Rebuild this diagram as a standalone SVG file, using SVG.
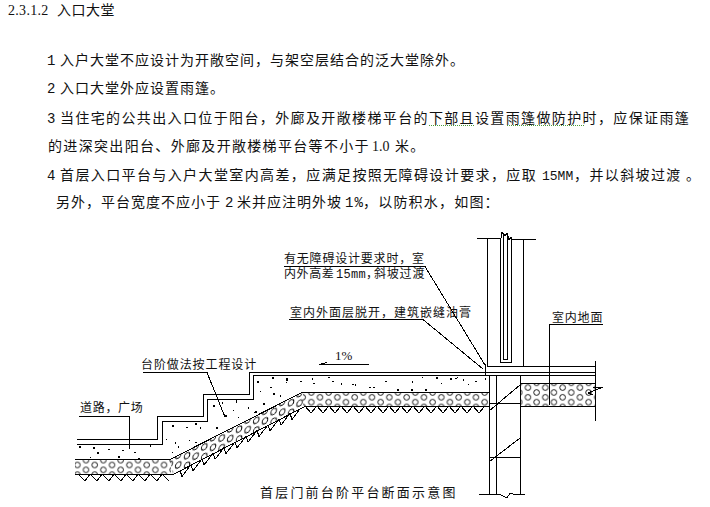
<svg xmlns="http://www.w3.org/2000/svg" width="710" height="507" viewBox="0 0 710 507">
<style>
text{font-family:"Noto Sans CJK SC","Liberation Sans",sans-serif;fill:#111}
.b{font-size:14px}
.l{font-size:12px}
.m{font-family:"Liberation Mono","Noto Sans CJK SC",monospace}
.s{font-family:"Liberation Serif","Noto Sans CJK SC",serif}
.k,.t{fill:none;stroke:#000;stroke-width:1;shape-rendering:crispEdges}
.c{fill:none;stroke:#000;stroke-width:0.9}
</style>
<defs>
<pattern id="g" width="17.33" height="9.67" patternUnits="userSpaceOnUse" x="303" y="392">
<circle class="c" cx="8.3" cy="0.5" r="2.8"/>
<circle class="c" cx="8.3" cy="10.17" r="2.8"/>
<circle class="c" cx="17" cy="5.3" r="2.8"/>
<circle class="c" cx="-0.33" cy="5.3" r="2.8"/>
</pattern>
<pattern id="gs" width="17.33" height="9.67" patternUnits="userSpaceOnUse" patternTransform="translate(170 459) skewY(-27)">
<circle class="c" cx="8.3" cy="0.5" r="2.8"/>
<circle class="c" cx="8.3" cy="10.17" r="2.8"/>
<circle class="c" cx="17" cy="5.3" r="2.8"/>
<circle class="c" cx="-0.33" cy="5.3" r="2.8"/>
</pattern>
</defs>
<rect width="710" height="507" fill="#fff"/>
<g id="body-text">
<text class="b" y="15"><tspan class="s" x="8" letter-spacing="0.3">2.3.1.2</tspan><tspan x="57" letter-spacing="0.5">入口大堂</tspan></text>
<text class="b" y="65" letter-spacing="1"><tspan class="m" x="47">1</tspan><tspan x="60">入户大堂不应设计为开敞空间，与架空层结合的泛大堂除外。</tspan></text>
<text class="b" y="93" letter-spacing="1"><tspan class="m" x="47">2</tspan><tspan x="60">入口大堂外应设置雨篷。</tspan></text>
<text class="b" y="123" letter-spacing="1.37"><tspan class="m" x="47">3</tspan><tspan x="60">当住宅的公共出入口位于阳台，外廊及开敞楼梯平台的下部且设置雨篷做防护时，应保证雨篷</tspan></text>
<text class="b" y="151" letter-spacing="1.33"><tspan x="48">的进深突出阳台、外廊及开敞楼梯平台等不小于</tspan><tspan class="s" x="372" letter-spacing="0">1.0</tspan><tspan x="395">米。</tspan></text>
<text class="b" y="180" letter-spacing="1.39"><tspan class="m" x="47">4</tspan><tspan x="60">首层入口平台与入户大堂室内高差，应满足按照无障碍设计要求，应取</tspan><tspan class="m" x="542" letter-spacing="0" font-size="13">15MM</tspan><tspan x="574">，并以斜坡过渡</tspan><tspan x="686">。</tspan></text>
<text class="b" y="207" letter-spacing="1"><tspan x="56">另外，平台宽度不应小于</tspan><tspan class="m" x="225">2</tspan><tspan x="237">米并应注明外坡</tspan><tspan class="m" x="345">1%</tspan><tspan x="363" letter-spacing="1.2">，以防积水，如图：</tspan></text>
<path d="M429 125.5h46M507 125.5h77" fill="none" stroke="#4a9a3a" stroke-width="1" stroke-dasharray="1 1"/>
</g>
<g id="ground">
<rect x="75" y="459" width="96" height="15" fill="url(#g)"/>
<polygon points="170,459 302,392 305,406 173,474" fill="url(#gs)"/>
<rect x="303" y="392" width="186" height="14" fill="url(#g)"/>
<rect x="520" y="383" width="75" height="23" fill="url(#g)"/>
<path class="k" d="M77 439.500H157.500V416.500H203.500V394.500H249.500V372.500H487M77 444.500H162.500V421.500H207.500V399.500H253.500V376L489 375.500"/>
<path class="k" d="M75 459.500H170L302 392.500H489M75 474.500H173L305 406.500H489"/>
<path class="t" d="M78 474l7 7 5-7 7 7 5-7 7 7 5-7 7 7 5-7 7 7 5-7 7 7 5-7 7 7 5-7 7 7"/>
<path class="t" d="M180 470.400l2 6 9-11.700 2 6 9-11.700 2 6 9-11.700 2 6 9-11.700 2 6 9-11.700 2 6 9-11.700 2 6 9-11.700 2 6 9-11.700 2 6 9-11.700 2 6 9-11.700 2 6 9-11.700"/>
<path class="t" d="M305 406l6 7 6-7 6 7 6-7 6 7 6-7 6 7 6-7 6 7 6-7 6 7 6-7 6 7 6-7 6 7 6-7 6 7 6-7 6 7 6-7 6 7 6-7 6 7 6-7 6 7 6-7 6 7 6-7 6 7 6-7"/>
<path fill="#000" d="M79 446h2v2h-2zM93 447h2v2h-2zM108 449h2v1h-2zM122 450h2v1h-2zM134 452h2v1h-2zM150 445h1v2h-1zM97 452h2v2h-2zM118 456h2v2h-2zM90 457h1v1h-1zM138 458h2v1h-2zM172 425h2v2h-2zM186 427h2v1h-2zM195 423h2v2h-2zM200 427h1v2h-1zM216 427h2v2h-2zM166 439h1v1h-1zM175 442h1v2h-1zM178 446h1v2h-1zM189 440h1v1h-1zM195 442h2v1h-2zM172 452h1v1h-1zM213 405h2v2h-2zM222 402h1v2h-1zM236 400h1v3h-1zM233 410h1v1h-1zM225 415h2v2h-2zM248 407h1v2h-1zM263 403h2v2h-2zM238 417h1v1h-1zM255 411h2v2h-2zM257 381h2v2h-2zM272 377h2v2h-2zM260 391h1v1h-1zM270 387h2v1h-2zM273 393h2v2h-2zM280 395h1v2h-1zM263 403h2v1h-2zM254 412h2v1h-2zM286 378h2v3h-2zM286 382h1v1h-1zM300 381h2v1h-2zM312 378h1v2h-1zM313 383h2v1h-2zM328 377h2v1h-2zM332 381h2v1h-2zM341 383h1v2h-1zM352 384h2v1h-2zM355 384h1v2h-1zM369 387h2v1h-2zM373 387h2v1h-2zM385 381h2v1h-2zM397 389h2v2h-2zM412 381h1v2h-1zM411 389h2v2h-2zM425 389h2v2h-2zM422 377h1v1h-1zM436 377h2v2h-2zM441 383h1v1h-1zM450 378h2v2h-2zM455 378h2v1h-2zM457 377h1v1h-1zM463 379h1v2h-1zM468 384h1v1h-1zM475 381h2v1h-2zM485 378h1v2h-1z"/>
</g>
<g id="building">
<path class="k" d="M489.500 375V494M496.500 375V494M520.500 375V494M479 494.500H500L507 498 510 493 514 494.500H525"/>
<path class="t" d="M489 403.500H520M489 457.500H520M489 411L520 385M489 462L520 438"/>
<path class="k" d="M487 366.500H595M430 372.500H595M430 375.500H595M520 383.500H595M520 406.500H595M595.500 361V421"/>
<path class="t" d="M593 387H603L588 393 593 395"/>
<path class="k" d="M487.500 238.500V366M523.500 238.500V366M477 238.500H501M512 239.500H536"/>
<path class="t" d="M500.500 238V362.500H511.500V240M503.500 233V359.500H507.500V235M501 238L502 232 505 236 507 233 509 240 511 237 512 243"/>
<path class="k" d="M485.500 364V376"/>
</g>
<g id="connectors">
<path class="t" d="M284 266.500H425L485 365M289 319.500H423L483 369"/>
<path class="k" d="M603 324.500H549.500V405M79 416.500H129.500V449"/>
<path class="t" d="M143 372.500H207L225 417"/>
<path class="k" d="M319 364.500H369"/>
<path class="t" d="M319 364.500L327 362.500"/>
</g>
<g id="labels">
<text class="l" x="284" y="263" letter-spacing="0.8">有无障碍设计要求时，室</text>
<text class="l" y="278"><tspan x="284" letter-spacing="0.6">内外高差</tspan><tspan class="m" x="336" letter-spacing="0.3">15mm</tspan><tspan x="366" letter-spacing="-4">，</tspan><tspan x="374" letter-spacing="0.8">斜坡过渡</tspan></text>
<text class="l" x="290" y="317" letter-spacing="1">室内外面层脱开，建筑嵌缝油膏</text>
<text class="l" x="552" y="322" letter-spacing="0.8">室内地面</text>
<text class="l" x="141" y="369" letter-spacing="0.9">台阶做法按工程设计</text>
<text class="l" x="80" y="412" letter-spacing="0.7">道路，广场</text>
<text class="s" x="335" y="360" font-size="13">1%</text>
<text x="260" y="497" font-size="13px" letter-spacing="2.2">首层门前台阶平台断面示意图</text>
</g>
</svg>
